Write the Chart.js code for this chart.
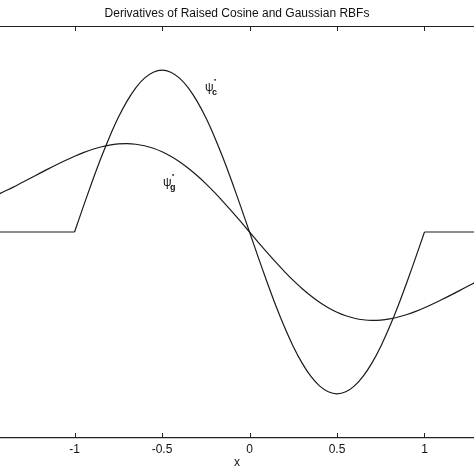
<!DOCTYPE html>
<html>
<head>
<meta charset="utf-8">
<script src="https://cdn.jsdelivr.net/npm/chart.js@4/dist/chart.umd.min.js"></script>
<style>
html,body{margin:0;padding:0;background:#fff;}
#wrap{width:474px;height:474px;}
</style>
</head>
<body>
<div id="wrap"><canvas id="c" width="474" height="474"></canvas></div>
<script>
const titleText = 'Derivatives of Raised Cosine and Gaussian RBFs';
const xAxisTitle = 'x';
const tickVals = [-1, -0.5, 0, 0.5, 1];
const xs = [-1.45,-1.4,-1.35,-1.3,-1.25,-1.2,-1.15,-1.1,-1.05,-1,
  -0.95,-0.9,-0.85,-0.8,-0.75,-0.7,-0.65,-0.6,-0.55,-0.5,
  -0.45,-0.4,-0.35,-0.3,-0.25,-0.2,-0.15,-0.1,-0.05,0,
  0.05,0.1,0.15,0.2,0.25,0.3,0.35,0.4,0.45,0.5,
  0.55,0.6,0.65,0.7,0.75,0.8,0.85,0.9,0.95,1,
  1.05,1.1,1.15,1.2,1.25,1.3];
const psiC = [0,0,0,0,0,0,0,0,0,0,
  0.246,0.485,0.713,0.923,1.111,1.271,1.400,1.494,1.551,1.571,
  1.551,1.494,1.400,1.271,1.111,0.923,0.713,0.485,0.246,0,
  -0.246,-0.485,-0.713,-0.923,-1.111,-1.271,-1.400,-1.494,-1.551,-1.571,
  -1.551,-1.494,-1.400,-1.271,-1.111,-0.923,-0.713,-0.485,-0.246,0,
  0,0,0,0,0,0];
const psiG = [0.354,0.395,0.436,0.480,0.524,0.569,0.613,0.656,0.697,0.736,
  0.771,0.801,0.825,0.844,0.855,0.858,0.852,0.837,0.813,0.779,
  0.735,0.682,0.619,0.548,0.470,0.384,0.293,0.198,0.100,0,
  -0.100,-0.198,-0.293,-0.384,-0.470,-0.548,-0.619,-0.682,-0.735,-0.779,
  -0.813,-0.837,-0.852,-0.858,-0.855,-0.844,-0.825,-0.801,-0.771,-0.736,
  -0.697,-0.656,-0.613,-0.569,-0.524,-0.480];
// support edges of the raised cosine (where its flat parts join the curve)
const supportEdges = [-1, 1];
// curve labels: [main, subscript, data x, data y]
const curveLabels = [
  ['\u03C8', 'c', -0.231, 1.40],
  ['\u03C8', 'g', -0.471, 0.476]
];

const FONT = '"Liberation Sans", Arial, Helvetica, sans-serif';
const LINE = '#1a1a1a';

const framePlugin = {
  id: 'frame',
  afterDraw(chart) {
    const {ctx, chartArea: a, scales} = chart;
    const xS = scales.x, yS = scales.y;
    ctx.save();
    ctx.strokeStyle = '#222';
    ctx.lineWidth = 1.2;
    ctx.beginPath();
    ctx.moveTo(a.left, a.top + 0.5);
    ctx.lineTo(a.right, a.top + 0.5);
    ctx.stroke();
    ctx.lineWidth = 1;
    tickVals.forEach(v => {
      const px = Math.round(xS.getPixelForValue(v)) + 0.5;
      ctx.beginPath();
      ctx.moveTo(px, a.top); ctx.lineTo(px, a.top + 5);
      ctx.moveTo(px, a.bottom); ctx.lineTo(px, a.bottom - 5);
      ctx.stroke();
    });
    ctx.fillStyle = '#111';
    ctx.textBaseline = 'middle';
    ctx.textAlign = 'left';
    curveLabels.forEach(([m, sub, dx, dy]) => {
      const px = xS.getPixelForValue(dx), py = yS.getPixelForValue(dy);
      ctx.font = '12px ' + FONT;
      ctx.fillText(m, px - 4, py);
      ctx.font = 'bold 9px ' + FONT;
      ctx.fillText(sub, px + 3, py + 5);
      ctx.beginPath();
      ctx.arc(px + 6, py - 8, 0.9, 0, Math.PI * 2);
      ctx.fill();
    });
    ctx.restore();
  }
};

const pts = (vals, lo, hi) => xs.map((x, i) => ({x: x, y: vals[i]}))
  .filter(p => p.x >= lo - 1e-9 && p.x <= hi + 1e-9);
const style = {borderColor: LINE, borderWidth: 1.2, pointRadius: 0, tension: 0.3, fill: false};

new Chart(document.getElementById('c'), {
  type: 'line',
  data: {
    datasets: [
      Object.assign({label: 'psi_c left', data: pts(psiC, -Infinity, supportEdges[0])}, style),
      Object.assign({label: 'psi_c', data: pts(psiC, supportEdges[0], supportEdges[1])}, style),
      Object.assign({label: 'psi_c right', data: pts(psiC, supportEdges[1], Infinity)}, style),
      Object.assign({label: 'psi_g', data: pts(psiG, -Infinity, Infinity)}, style)
    ]
  },
  options: {
    responsive: false,
    animation: false,
    devicePixelRatio: 1,
    layout: {padding: {left: 0, right: 0, top: 0, bottom: 0}},
    plugins: {
      legend: {display: false},
      tooltip: {enabled: false},
      title: {
        display: true, text: titleText, color: '#111',
        font: {family: FONT, size: 12, weight: 'normal'},
        padding: {top: 6, bottom: 5.6}
      }
    },
    scales: {
      x: {
        type: 'linear', min: -1.426, max: 1.283,
        afterBuildTicks: (s) => { s.ticks = tickVals.map(v => ({value: v})); },
        grid: {display: true, drawOnChartArea: false, drawTicks: false},
        border: {display: true, color: '#222', width: 1.2},
        ticks: {color: '#111', padding: 4.8, maxRotation: 0, autoSkip: false,
          font: {family: FONT, size: 12}, callback: (v) => String(v)},
        title: {display: true, text: xAxisTitle, color: '#111', padding: {top: -5, bottom: 5},
          font: {family: FONT, size: 12, lineHeight: 1}}
      },
      y: {
        type: 'linear', min: -2, max: 2, display: false
      }
    }
  },
  plugins: [framePlugin]
});
</script>
</body>
</html>
